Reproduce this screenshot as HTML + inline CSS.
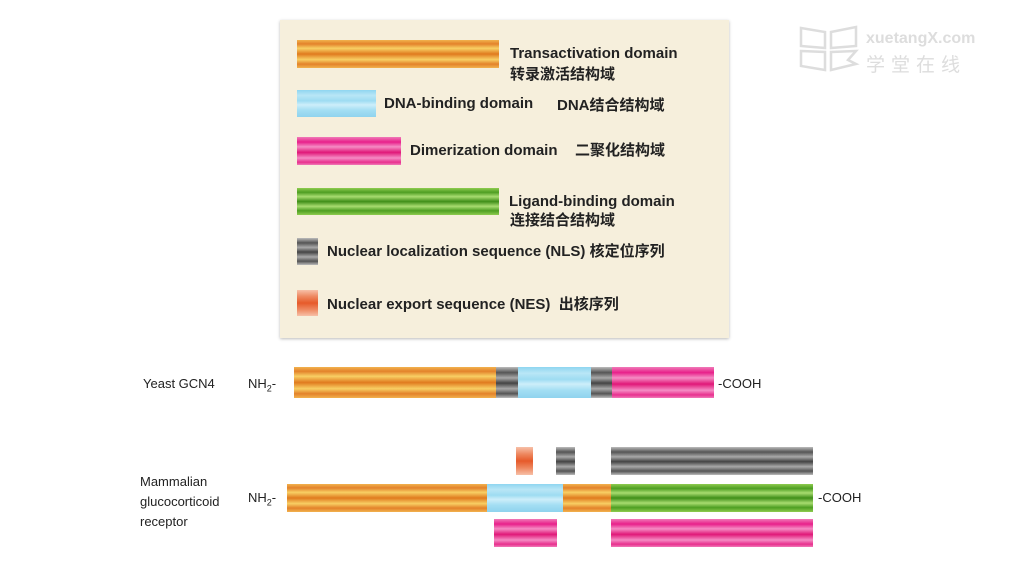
<!DOCTYPE html>
<html><head><meta charset="utf-8"><style>
body{margin:0;width:1024px;height:576px;background:#fff;position:relative;overflow:hidden;font-family:"Liberation Sans","Noto Sans CJK SC",sans-serif;}
.b{position:absolute}
.o{background:linear-gradient(#f2b24e 0%,#e3822a 14%,#f8cf64 30%,#e07a1e 50%,#f8cf64 70%,#e3822a 86%,#f2b24e 100%)}
.u{background:linear-gradient(#8fd6f0 0%,#b9e6f6 20%,#9edcf2 40%,#cdeefa 55%,#a3def3 75%,#8fd3ee 100%)}
.p{background:linear-gradient(#f07ab8 0%,#e8208a 18%,#f58cc4 35%,#e01878 55%,#f58cc4 75%,#e8308e 90%,#f07ab8 100%)}
.g{background:linear-gradient(#8fcc50 0%,#4e9e22 16%,#a8dc70 32%,#3f8e18 50%,#a8dc70 68%,#4e9e22 84%,#8fcc50 100%)}
.k{background:linear-gradient(#bcbcbc 0%,#555 18%,#a8a8a8 35%,#444 52%,#a8a8a8 70%,#555 86%,#bcbcbc 100%)}
.n{background:linear-gradient(#f7c0a8 0%,#ee8860 25%,#e65a2a 50%,#ee8860 75%,#f7c0a8 100%)}
.t{position:absolute;font-size:15px;font-weight:bold;color:#222;white-space:nowrap;line-height:16px}
.s{position:absolute;font-size:13px;color:#222;white-space:nowrap;line-height:16px}
</style></head><body>
<div class="b" style="left:280px;top:20px;width:449px;height:318px;background:#f6efdc;box-shadow:0 1px 3px #bbb"></div>
<div class="b o" style="left:297px;top:40px;width:202px;height:28px"></div>
<div class="b u" style="left:297px;top:90px;width:79px;height:27px"></div>
<div class="b p" style="left:297px;top:137px;width:104px;height:28px"></div>
<div class="b g" style="left:297px;top:188px;width:202px;height:27px"></div>
<div class="b k" style="left:297px;top:238px;width:21px;height:27px"></div>
<div class="b n" style="left:297px;top:290px;width:21px;height:26px"></div>
<div class="t" style="left:510px;top:46px">Transactivation domain</div>
<div class="t" style="left:510px;top:67px">转录激活结构域</div>
<div class="t" style="left:384px;top:96px">DNA-binding domain</div>
<div class="t" style="left:557px;top:98px">DNA结合结构域</div>
<div class="t" style="left:410px;top:143px">Dimerization domain</div>
<div class="t" style="left:575px;top:143px">二聚化结构域</div>
<div class="t" style="left:509px;top:194px">Ligand-binding domain</div>
<div class="t" style="left:510px;top:213px">连接结合结构域</div>
<div class="t" style="left:327px;top:244px">Nuclear localization sequence (NLS) 核定位序列</div>
<div class="t" style="left:327px;top:297px">Nuclear export sequence (NES) &nbsp;出核序列</div>

<div class="s" style="left:143px;top:376px">Yeast GCN4</div>
<div class="s" style="left:248px;top:376px">NH<sub style="font-size:9px">2</sub>-</div>
<div class="b o" style="left:294px;top:367px;width:202px;height:31px"></div>
<div class="b k" style="left:496px;top:367px;width:22px;height:31px"></div>
<div class="b u" style="left:518px;top:367px;width:73px;height:31px"></div>
<div class="b k" style="left:591px;top:367px;width:21px;height:31px"></div>
<div class="b p" style="left:612px;top:367px;width:102px;height:31px"></div>
<div class="s" style="left:718px;top:376px">-COOH</div>

<div class="b n" style="left:516px;top:447px;width:17px;height:28px"></div>
<div class="b k" style="left:556px;top:447px;width:19px;height:28px"></div>
<div class="b k" style="left:611px;top:447px;width:202px;height:28px"></div>
<div class="b o" style="left:287px;top:484px;width:200px;height:28px"></div>
<div class="b u" style="left:487px;top:484px;width:76px;height:28px"></div>
<div class="b o" style="left:563px;top:484px;width:48px;height:28px"></div>
<div class="b g" style="left:611px;top:484px;width:202px;height:28px"></div>
<div class="b p" style="left:494px;top:519px;width:63px;height:28px"></div>
<div class="b p" style="left:611px;top:519px;width:202px;height:28px"></div>
<div class="s" style="left:140px;top:474px">Mammalian</div>
<div class="s" style="left:140px;top:494px">glucocorticoid</div>
<div class="s" style="left:140px;top:514px">receptor</div>
<div class="s" style="left:248px;top:490px">NH<sub style="font-size:9px">2</sub>-</div>
<div class="s" style="left:818px;top:490px">-COOH</div>

<svg class="b" style="left:798px;top:24px" width="62" height="50" viewBox="0 0 62 50" fill="none" stroke="#ddd" stroke-width="2.5">
<path d="M3 4 L27 8 L27 24 L3 22 Z M3 27 L27 28 L27 46 L3 42 Z M33 8 L58 3 L58 22 L33 24 Z M33 28 L58 27 L50 36 L58 40 L33 46 Z"/>
</svg>
<div class="b" style="left:866px;top:30px;font-size:16px;color:#ddd;font-weight:bold">xuetangX.com</div>
<div class="b" style="left:866px;top:50px;font-size:19px;color:#ddd;letter-spacing:6px">学堂在线</div>
</body></html>
